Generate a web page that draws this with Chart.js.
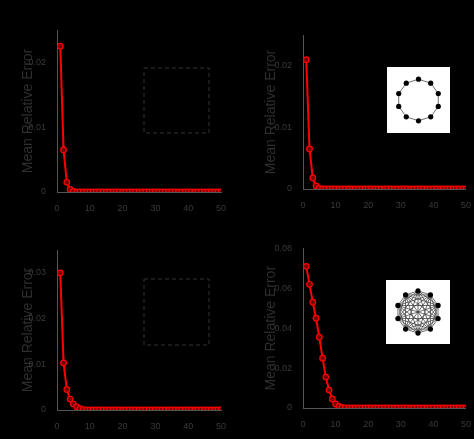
<!DOCTYPE html><html><head><script src="https://cdn.jsdelivr.net/npm/chart.js@4"></script>
<style>body{margin:0;background:#000;width:474px;height:439px;overflow:hidden;position:relative}div.p{position:absolute}</style></head><body>
<div class="p" id="d0" style="left:0;top:20px;width:237px;height:200px"><canvas id="c0"></canvas></div>
<div class="p" id="d1" style="left:237px;top:20px;width:237px;height:200px"><canvas id="c1"></canvas></div>
<div class="p" id="d2" style="left:0;top:240px;width:237px;height:199px"><canvas id="c2"></canvas></div>
<div class="p" id="d3" style="left:237px;top:240px;width:237px;height:199px"><canvas id="c3"></canvas></div>
<script>
const iterations = Array.from({length:50},(_,i)=>i+1);
function pad(a){const r=a.slice();while(r.length<50)r.push(0);return r;}
const errTopLeft = pad([0.0225,0.0065,0.0015,0.0004,0.0001]);
const errTopRight = pad([0.021,0.0065,0.0018,0.0005,0.0001]);
const errBottomLeft = pad([0.030,0.0103,0.0045,0.0024,0.0013,0.0007,0.0003,0.0001]);
const errBottomRight = pad([0.071,0.062,0.053,0.045,0.0355,0.025,0.0155,0.009,0.0045,0.002,0.0008,0.0003,0.0001]);
const xTicks = [0,10,20,30,40,50];
const yTicksTop = [0,0.01,0.02];
const yTicksBL = [0,0.01,0.02,0.03];
const yTicksBR = [0,0.02,0.04,0.06,0.08];
const yLabelsTop = ['0','0.01','0.02'];
const yLabelsBL = ['0','0.01','0.02','0.03'];
const yLabelsBR = ['0','0.02','0.04','0.06','0.08'];

const panels=[
 {data:errTopLeft,max:0.025,yt:yTicksTop,yl:yLabelsTop,pl:20,yw:37,xh:28,pt:10,inset:'dash',box:[144,68,65,65],offL:0,offT:20},
 {data:errTopRight,max:0.025,yt:yTicksTop,yl:yLabelsTop,pl:26,yw:40,xh:31,pt:15,inset:'ring',box:[387,67,63,66],offL:237,offT:20},
 {data:errBottomLeft,max:0.035,yt:yTicksBL,yl:yLabelsBL,pl:20,yw:37,xh:29,pt:10,inset:'dash',box:[144,279,65,66],offL:0,offT:240},
 {data:errBottomRight,max:0.08,yt:yTicksBR,yl:yLabelsBR,pl:26,yw:40,xh:31,pt:8,inset:'full',box:[386,280,64,64],offL:237,offT:240},
];
panels.forEach((p,i)=>{
 const insetPlugin={id:'inset',afterDraw(ch){
  const c=ch.ctx;const [x,y,w,h]=p.box;const X=x-p.offL,Y=y-p.offT;c.save();
  if(p.inset==='dash'){c.strokeStyle='#333';c.setLineDash([4,3]);c.lineWidth=1;c.strokeRect(X,Y,w,h);}
  else{c.fillStyle='#fff';c.fillRect(X,Y,w,h);
   const cx=X+w/2,cy=Y+h/2,r=w*0.33,n=10;const pts=[];
   for(let k=0;k<n;k++){const a=-Math.PI/2+k*2*Math.PI/n;pts.push([cx+r*Math.cos(a),cy+r*Math.sin(a)]);}
   c.strokeStyle='#333';c.lineWidth=0.7;
   for(let a=0;a<n;a++)for(let b=a+1;b<n;b++){const d=Math.min(b-a,n-b+a);if(p.inset==='ring'?d===1:true){c.beginPath();c.moveTo(...pts[a]);c.lineTo(...pts[b]);c.stroke();}}
   c.fillStyle='#000';pts.forEach(q=>{c.beginPath();c.arc(q[0],q[1],2.6,0,7);c.fill();});}
  c.restore();}};
 new Chart(document.getElementById('c'+i),{type:'line',
  data:{labels:iterations,datasets:[{data:p.data,borderColor:'#f00',borderWidth:2,pointRadius:2.8,pointBorderColor:'#f00',pointBackgroundColor:'#700',pointBorderWidth:1.2}]},
  options:{responsive:true,maintainAspectRatio:false,animation:false,layout:{padding:{top:p.pt,left:p.pl,right:p.offL?7:16}},
   plugins:{legend:{display:false},tooltip:{enabled:false}},
   scales:{
    x:{type:'linear',min:0,max:50,grid:{display:false},border:{color:'#555'},afterBuildTicks:s=>{s.ticks=xTicks.map(v=>({value:v}));},
       ticks:{color:'#3a3a3a',font:{size:9},maxRotation:0},afterFit:s=>{s.height=p.xh;}},
    y:{min:0,max:p.max,grid:{display:false},border:{color:'#555'},afterBuildTicks:s=>{s.ticks=p.yt.map(v=>({value:v}));},
       ticks:{color:'#3a3a3a',font:{size:9},callback:(v)=>p.yl[p.yt.indexOf(v)]??''},
       title:{display:true,text:'Mean Relative Error',color:'#2e2e2e',font:{size:14},padding:0},afterFit:s=>{s.width=p.yw;}}}},
  plugins:[insetPlugin]});
});
</script></body></html>
